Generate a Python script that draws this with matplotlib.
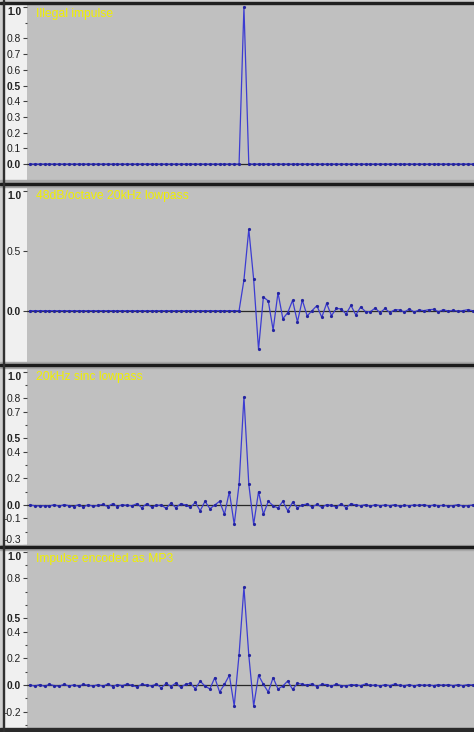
import matplotlib.pyplot as plt
from matplotlib.patches import Rectangle

plt.rcParams['font.family'] = ['Liberation Sans', 'DejaVu Sans']

# sample index (one dot per sample)
samples = list(range(92))

titles = ["Illegal impulse", "48dB/octave 20kHz lowpass",
          "20kHz sinc lowpass", "Impulse encoded as MP3"]

impulse = [0.0] * 44 + [1.0] + [0.0] * 47

lowpass48 = [0.0] * 44 + [
    0.256, 0.678, 0.261, -0.322, 0.114, 0.081, -0.161, 0.150, -0.067, -0.017,
    0.086, -0.094, 0.089, -0.044, 0.000, 0.042, -0.056, 0.061, -0.042, 0.019,
    0.014, -0.028, 0.044, -0.036, 0.031, -0.008, -0.008, 0.022, -0.019, 0.019,
    -0.017, 0.008, 0.006, -0.011, 0.014, -0.011, 0.006, 0.000, 0.008, 0.011,
    -0.008, 0.008, -0.003, 0.003, -0.003, 0.000, 0.008, 0.000]

sinc = [
    0.000, -0.005, -0.008, -0.005, -0.008, 0.003, -0.010, 0.003, -0.005, -0.012,
    0.003, -0.015, 0.003, -0.010, -0.003, 0.005, -0.012, 0.010, -0.012, 0.003,
    -0.003, -0.005, 0.010, -0.020, 0.010, -0.015, -0.003, 0.000, -0.025, 0.015,
    -0.020, 0.010, 0.000, -0.018, 0.020, -0.043, 0.028, -0.028, 0.000, 0.028,
    -0.070, 0.100, -0.145, 0.155, 0.810, 0.155, -0.145, 0.100, -0.070, 0.028,
    -0.005, -0.023, 0.028, -0.043, 0.020, -0.020, 0.000, 0.008, -0.015, 0.005,
    -0.018, 0.003, -0.003, -0.015, 0.010, -0.020, 0.010, 0.000, -0.005, 0.003,
    -0.010, 0.003, -0.005, 0.000, -0.005, 0.003, -0.010, -0.003, -0.005, 0.000,
    -0.003, 0.003, -0.008, 0.000, -0.005, -0.003, -0.008, -0.005, 0.003, -0.008,
    -0.005, 0.000]

mp3 = [
    0.000, -0.008, 0.003, -0.010, 0.005, -0.005, -0.010, 0.005, -0.008, 0.000,
    -0.010, 0.005, -0.003, -0.008, 0.003, -0.010, 0.008, -0.012, 0.003, -0.005,
    0.008, -0.003, -0.015, 0.005, 0.000, -0.008, 0.008, -0.022, 0.012, -0.012,
    0.015, -0.018, 0.005, 0.012, -0.028, 0.028, -0.008, -0.030, 0.055, -0.053,
    0.005, 0.073, -0.158, 0.228, 0.733, 0.223, -0.158, 0.073, 0.005, -0.053,
    0.055, -0.030, -0.008, 0.030, -0.033, 0.012, 0.005, 0.000, 0.008, -0.012,
    0.005, 0.003, -0.010, 0.008, -0.005, -0.008, 0.003, 0.000, -0.005, 0.008,
    -0.003, 0.000, -0.008, 0.003, -0.005, 0.008, -0.003, -0.005, 0.003, -0.008,
    0.003, -0.003, 0.000, -0.005, 0.003, -0.003, 0.003, -0.005, 0.003, -0.005,
    0.003, 0.000]

series = [impulse, lowpass48, sinc, mp3]

# ruler labels per track
labels = [
    ["1.0", "0.8", "0.7", "0.6", "0.5", "0.4", "0.3", "0.2", "0.1", "0.0"],
    ["1.0", "0.5", "0.0"],
    ["1.0", "0.8", "0.7", "0.5", "0.4", "0.2", "0.0", "-0.1", "-0.3"],
    ["1.0", "0.8", "0.5", "0.4", "0.2", "0.0", "-0.2"],
]
minor = [
    [0.9],
    [],
    [0.9, 0.6, 0.3, 0.1, -0.2],
    [0.9, 0.7, 0.6, 0.3, 0.1, -0.1, -0.3],
]
bold = [["1.0", "0.5", "0.0"], ["1.0", "0.0"],
        ["1.0", "0.5", "0.0"], ["1.0", "0.5", "0.0"]]

# track geometry in pixels: top, bottom, and visible amplitude range
W, H = 474, 732
tracks = [(5, 180, -0.102, 1.013),
          (187, 362, -0.428, 1.031),
          (368, 545, -0.300, 1.028),
          (550, 728, -0.323, 1.013)]

fig = plt.figure(figsize=(W / 100, H / 100), dpi=100, facecolor="#d0d0d0")


def band(y0, y1, color):
    fig.patches.append(Rectangle((0, 1 - y1 / H), 1, (y1 - y0) / H,
                                 transform=fig.transFigure, color=color))


# separators between tracks: grey gap with a dark line
band(2, 4, "#202020")
for y0, y1 in [(180, 187), (362, 368), (545, 550)]:
    band(y0, y1, "#a8a8a8")
    band(y1 - 4, y1 - 2, "#1c1c1c")
band(728, 732, "#2a2a2a")
fig.patches.append(Rectangle((3 / W, 0), 1.2 / W, 1,
                             transform=fig.transFigure, color="#303030"))

for i, (top, bottom, lo, hi) in enumerate(tracks):
    ruler = fig.add_axes(box := [4.5 / W, 1 - bottom / H, 22.5 / W, (bottom - top) / H])
    ruler.set_facecolor("#f0f0f0")
    ruler.set_xticks([])
    ruler.set_yticks([])
    for s in ruler.spines.values():
        s.set_visible(False)

    ax = fig.add_axes([27 / W, 1 - bottom / H, 447 / W, (bottom - top) / H])
    ax.set_facecolor("#c0c0c0")
    for s in ax.spines.values():
        s.set_visible(False)
    ax.set_xlim(-0.6, 91.3)
    ax.set_ylim(lo, hi)
    ax.set_xticks([])

    ax.axhline(0, color="#282828", lw=0.9, zorder=1)
    ax.plot(samples, series[i], color="#3c3cd2", lw=0.9, zorder=2,
            marker="o", ms=2.3, mfc="#2424a0", mec="none")

    vals = [float(t) for t in labels[i]]
    ax.set_yticks(vals, labels[i])
    ax.set_yticks(minor[i], minor=True)
    ax.tick_params(axis="y", which="major", direction="out", length=3,
                   width=0.8, color="#404040", labelsize=7.4, pad=1.2,
                   labelcolor="#202020")
    ax.tick_params(axis="y", which="minor", direction="out", length=1.5,
                   width=0.8, color="#404040")
    for t in ax.get_yticklabels():
        if t.get_text() in bold[i]:
            t.set_fontweight("bold")
        if t.get_text() == "1.0":
            t.set_va("top")
        if t.get_text() == "-0.3":
            t.set_va("bottom")

    ax.text(9 / 447, 1 - 12 / (bottom - top), titles[i], transform=ax.transAxes,
            color="#f0f000", fontsize=8.7, va="baseline", ha="left")

fig.savefig("out.png", dpi=100, facecolor=fig.get_facecolor())
